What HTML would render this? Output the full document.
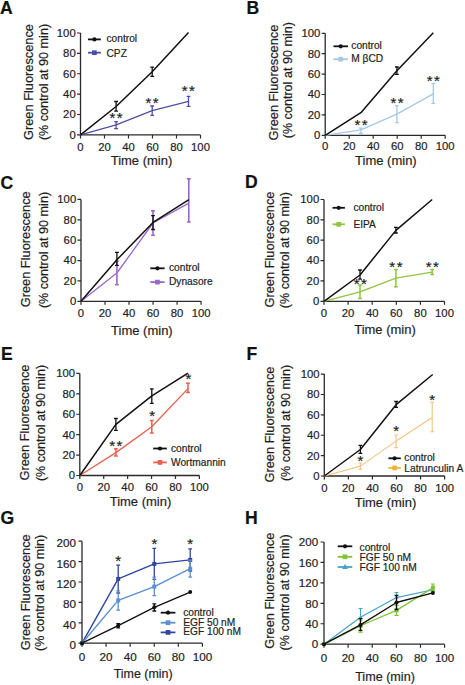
<!DOCTYPE html>
<html><head><meta charset="utf-8"><style>
html,body{margin:0;padding:0;background:#fff;}
body{width:465px;height:685px;overflow:hidden;}
svg{display:block;font-family:"Liberation Sans", sans-serif;}
text{stroke:#222;stroke-width:0.2px;}
</style></head><body>
<svg width="465" height="685" viewBox="0 0 465 685">
<rect width="465" height="685" fill="#fff"/>
<g>
<text x="0" y="13.7" font-size="17.6" font-weight="bold" fill="#111">A</text>
<path d="M80.5 33V134.9H200.5" stroke="#2a2a2a" stroke-width="1.3" fill="none"/>
<text x="75.7" y="138.8" font-size="11.3" text-anchor="end" fill="#1e1e1e">0</text>
<text x="75.7" y="118.42" font-size="11.3" text-anchor="end" fill="#1e1e1e">20</text>
<text x="75.7" y="98.04" font-size="11.3" text-anchor="end" fill="#1e1e1e">40</text>
<text x="75.7" y="77.66" font-size="11.3" text-anchor="end" fill="#1e1e1e">60</text>
<text x="75.7" y="57.28" font-size="11.3" text-anchor="end" fill="#1e1e1e">80</text>
<text x="75.7" y="36.9" font-size="11.3" text-anchor="end" fill="#1e1e1e">100</text>
<text x="80.5" y="150.6" font-size="11.3" text-anchor="middle" fill="#1e1e1e">0</text>
<text x="104.5" y="150.6" font-size="11.3" text-anchor="middle" fill="#1e1e1e">20</text>
<text x="128.5" y="150.6" font-size="11.3" text-anchor="middle" fill="#1e1e1e">40</text>
<text x="152.5" y="150.6" font-size="11.3" text-anchor="middle" fill="#1e1e1e">60</text>
<text x="176.5" y="150.6" font-size="11.3" text-anchor="middle" fill="#1e1e1e">80</text>
<text x="200.5" y="150.6" font-size="11.3" text-anchor="middle" fill="#1e1e1e">100</text>
<path d="M77 134.9H80.5M77 114.52H80.5M77 94.14H80.5M77 73.76H80.5M77 53.38H80.5M77 33H80.5M80.5 134.9V138.4M104.5 134.9V138.4M128.5 134.9V138.4M152.5 134.9V138.4M176.5 134.9V138.4M200.5 134.9V138.4" stroke="#2a2a2a" stroke-width="1.2" fill="none"/>
<text x="141.5" y="164.9" font-size="13" text-anchor="middle" fill="#1e1e1e">Time (min)</text>
<text transform="translate(33.4 82) rotate(-90)" font-size="12.8" text-anchor="middle" fill="#1e1e1e">Green Fluorescence</text>
<text transform="translate(48 82) rotate(-90)" font-size="12.6" text-anchor="middle" fill="#1e1e1e">(% control at 90 min)</text>
<path d="M80.5 134.9 L116.1 124.8 L152.2 110.7 L188.5 101.3" stroke="#4e4ea8" stroke-width="1.3" fill="none" stroke-linejoin="round"/>
<path d="M116.1 121.6V128.6M114.2 121.6H118M114.2 128.6H118M152.2 106V115.3M150.3 106H154.1M150.3 115.3H154.1M188.5 96.3V106.3M186.6 96.3H190.4M186.6 106.3H190.4" stroke="#4e4ea8" stroke-width="1.3" fill="none"/>
<path d="M80.5 134.9 L116.1 106.5 L152.2 71.7 L188.5 32.6" stroke="#111" stroke-width="1.5" fill="none" stroke-linejoin="round"/>
<path d="M116.1 101.5V111.1M114.2 101.5H118M114.2 111.1H118M152.2 67.2V76.4M150.3 67.2H154.1M150.3 76.4H154.1" stroke="#111" stroke-width="1.3" fill="none"/>
<text x="112.35" y="122.5" font-size="15" text-anchor="middle" fill="#1e1e1e">*</text>
<text x="119.65" y="122.5" font-size="15" text-anchor="middle" fill="#1e1e1e">*</text>
<text x="148.35" y="107.7" font-size="15" text-anchor="middle" fill="#1e1e1e">*</text>
<text x="155.65" y="107.7" font-size="15" text-anchor="middle" fill="#1e1e1e">*</text>
<text x="184.55" y="96.3" font-size="15" text-anchor="middle" fill="#1e1e1e">*</text>
<text x="191.85" y="96.3" font-size="15" text-anchor="middle" fill="#1e1e1e">*</text>
<path d="M88 39.4H100.8" stroke="#111" stroke-width="1.8"/>
<circle cx="94.4" cy="39.4" r="2.1" fill="#111"/>
<text x="106.5" y="42.3" font-size="10.2" fill="#1e1e1e">control</text>
<path d="M88 52.7H100.8" stroke="#4e4ea8" stroke-width="1.8"/>
<rect x="92.05" y="50.35" width="4.7" height="4.7" fill="#4e4ea8"/>
<text x="106.5" y="56.5" font-size="10.2" fill="#1e1e1e">CPZ</text>
</g>
<g>
<text x="246.6" y="13.6" font-size="17.6" font-weight="bold" fill="#111">B</text>
<path d="M325.2 33.3V135.3H445.2" stroke="#2a2a2a" stroke-width="1.3" fill="none"/>
<text x="320.4" y="139.2" font-size="11.3" text-anchor="end" fill="#1e1e1e">0</text>
<text x="320.4" y="118.8" font-size="11.3" text-anchor="end" fill="#1e1e1e">20</text>
<text x="320.4" y="98.4" font-size="11.3" text-anchor="end" fill="#1e1e1e">40</text>
<text x="320.4" y="78" font-size="11.3" text-anchor="end" fill="#1e1e1e">60</text>
<text x="320.4" y="57.6" font-size="11.3" text-anchor="end" fill="#1e1e1e">80</text>
<text x="320.4" y="37.2" font-size="11.3" text-anchor="end" fill="#1e1e1e">100</text>
<text x="325.2" y="150.3" font-size="11.3" text-anchor="middle" fill="#1e1e1e">0</text>
<text x="349.2" y="150.3" font-size="11.3" text-anchor="middle" fill="#1e1e1e">20</text>
<text x="373.2" y="150.3" font-size="11.3" text-anchor="middle" fill="#1e1e1e">40</text>
<text x="397.2" y="150.3" font-size="11.3" text-anchor="middle" fill="#1e1e1e">60</text>
<text x="421.2" y="150.3" font-size="11.3" text-anchor="middle" fill="#1e1e1e">80</text>
<text x="445.2" y="150.3" font-size="11.3" text-anchor="middle" fill="#1e1e1e">100</text>
<path d="M321.7 135.3H325.2M321.7 114.9H325.2M321.7 94.5H325.2M321.7 74.1H325.2M321.7 53.7H325.2M321.7 33.3H325.2M325.2 135.3V138.8M349.2 135.3V138.8M373.2 135.3V138.8M397.2 135.3V138.8M421.2 135.3V138.8M445.2 135.3V138.8" stroke="#2a2a2a" stroke-width="1.2" fill="none"/>
<text x="385.9" y="165.3" font-size="13" text-anchor="middle" fill="#1e1e1e">Time (min)</text>
<text transform="translate(277.7 82.6) rotate(-90)" font-size="12.8" text-anchor="middle" fill="#1e1e1e">Green Fluorescence</text>
<text transform="translate(292.4 80.2) rotate(-90)" font-size="12.6" text-anchor="middle" fill="#1e1e1e">(% control at 90 min)</text>
<path d="M325.2 135.3 L360.9 129.8 L396.9 114.1 L433.3 93.9" stroke="#a6c8e8" stroke-width="1.3" fill="none" stroke-linejoin="round"/>
<path d="M360.9 128.1V133.3M359 128.1H362.8M359 133.3H362.8M396.9 105.7V122.6M395 105.7H398.8M395 122.6H398.8M433.3 83.6V103.4M431.4 83.6H435.2M431.4 103.4H435.2" stroke="#a6c8e8" stroke-width="1.3" fill="none"/>
<path d="M325.2 135.3 L360.9 112.7 L396.9 70.8 L433.3 32.8" stroke="#111" stroke-width="1.5" fill="none" stroke-linejoin="round"/>
<path d="M396.9 67V74.4M395 67H398.8M395 74.4H398.8" stroke="#111" stroke-width="1.3" fill="none"/>
<text x="357.35" y="129.7" font-size="15" text-anchor="middle" fill="#1e1e1e">*</text>
<text x="364.65" y="129.7" font-size="15" text-anchor="middle" fill="#1e1e1e">*</text>
<text x="393.35" y="108" font-size="15" text-anchor="middle" fill="#1e1e1e">*</text>
<text x="400.65" y="108" font-size="15" text-anchor="middle" fill="#1e1e1e">*</text>
<text x="429.65" y="85.8" font-size="15" text-anchor="middle" fill="#1e1e1e">*</text>
<text x="436.95" y="85.8" font-size="15" text-anchor="middle" fill="#1e1e1e">*</text>
<path d="M333.5 46.3H348" stroke="#111" stroke-width="1.8"/>
<circle cx="340.75" cy="46.3" r="2.1" fill="#111"/>
<text x="351.3" y="48.8" font-size="10.2" fill="#1e1e1e">control</text>
<path d="M333.5 59.2H348" stroke="#a6c8e8" stroke-width="1.8"/>
<rect x="338.4" y="56.85" width="4.7" height="4.7" fill="#a6c8e8"/>
<text x="351.3" y="62.4" font-size="10.2" fill="#1e1e1e">M βCD</text>
</g>
<g>
<text x="0.5" y="188.5" font-size="17.6" font-weight="bold" fill="#111">C</text>
<path d="M81 199.4V301.3H201.1" stroke="#2a2a2a" stroke-width="1.3" fill="none"/>
<text x="76.2" y="305.2" font-size="11.3" text-anchor="end" fill="#1e1e1e">0</text>
<text x="76.2" y="284.82" font-size="11.3" text-anchor="end" fill="#1e1e1e">20</text>
<text x="76.2" y="264.44" font-size="11.3" text-anchor="end" fill="#1e1e1e">40</text>
<text x="76.2" y="244.06" font-size="11.3" text-anchor="end" fill="#1e1e1e">60</text>
<text x="76.2" y="223.68" font-size="11.3" text-anchor="end" fill="#1e1e1e">80</text>
<text x="76.2" y="203.3" font-size="11.3" text-anchor="end" fill="#1e1e1e">100</text>
<text x="81" y="317" font-size="11.3" text-anchor="middle" fill="#1e1e1e">0</text>
<text x="105.02" y="317" font-size="11.3" text-anchor="middle" fill="#1e1e1e">20</text>
<text x="129.04" y="317" font-size="11.3" text-anchor="middle" fill="#1e1e1e">40</text>
<text x="153.06" y="317" font-size="11.3" text-anchor="middle" fill="#1e1e1e">60</text>
<text x="177.08" y="317" font-size="11.3" text-anchor="middle" fill="#1e1e1e">80</text>
<text x="201.1" y="317" font-size="11.3" text-anchor="middle" fill="#1e1e1e">100</text>
<path d="M77.5 301.3H81M77.5 280.92H81M77.5 260.54H81M77.5 240.16H81M77.5 219.78H81M77.5 199.4H81M81 301.3V304.8M105.02 301.3V304.8M129.04 301.3V304.8M153.06 301.3V304.8M177.08 301.3V304.8M201.1 301.3V304.8" stroke="#2a2a2a" stroke-width="1.2" fill="none"/>
<text x="141.9" y="335.1" font-size="13" text-anchor="middle" fill="#1e1e1e">Time (min)</text>
<text transform="translate(30.3 249.3) rotate(-90)" font-size="12.8" text-anchor="middle" fill="#1e1e1e">Green Fluorescence</text>
<text transform="translate(48.4 250) rotate(-90)" font-size="12.6" text-anchor="middle" fill="#1e1e1e">(% control at 90 min)</text>
<path d="M81 301.3 L116.9 273 L153 223 L188.8 203.1" stroke="#9a68cc" stroke-width="1.3" fill="none" stroke-linejoin="round"/>
<path d="M116.9 261.2V284.8M115 261.2H118.8M115 284.8H118.8M153 210.9V235.2M151.1 210.9H154.9M151.1 235.2H154.9M188.8 178.9V222M186.9 178.9H190.7M186.9 222H190.7" stroke="#9a68cc" stroke-width="1.6" fill="none"/>
<path d="M81 301.3 L116.9 259.8 L153 222.4 L189 199.6" stroke="#111" stroke-width="1.5" fill="none" stroke-linejoin="round"/>
<path d="M116.9 252.4V265.4M115 252.4H118.8M115 265.4H118.8M153 215.7V229.5M151.1 215.7H154.9M151.1 229.5H154.9" stroke="#111" stroke-width="1.3" fill="none"/>
<path d="M150.3 268.3H164.6" stroke="#111" stroke-width="1.8"/>
<circle cx="157.45" cy="268.3" r="2.1" fill="#111"/>
<text x="169" y="271" font-size="10.2" fill="#1e1e1e">control</text>
<path d="M150.3 282.1H164.6" stroke="#9a68cc" stroke-width="1.8"/>
<rect x="155.1" y="279.75" width="4.7" height="4.7" fill="#9a68cc"/>
<text x="169" y="285.1" font-size="10.2" fill="#1e1e1e">Dynasore</text>
</g>
<g>
<text x="245" y="188.2" font-size="17.6" font-weight="bold" fill="#111">D</text>
<path d="M324 199.5V301.3H444.5" stroke="#2a2a2a" stroke-width="1.3" fill="none"/>
<text x="319.2" y="305.2" font-size="11.3" text-anchor="end" fill="#1e1e1e">0</text>
<text x="319.2" y="284.84" font-size="11.3" text-anchor="end" fill="#1e1e1e">20</text>
<text x="319.2" y="264.48" font-size="11.3" text-anchor="end" fill="#1e1e1e">40</text>
<text x="319.2" y="244.12" font-size="11.3" text-anchor="end" fill="#1e1e1e">60</text>
<text x="319.2" y="223.76" font-size="11.3" text-anchor="end" fill="#1e1e1e">80</text>
<text x="319.2" y="203.4" font-size="11.3" text-anchor="end" fill="#1e1e1e">100</text>
<text x="324" y="316.5" font-size="11.3" text-anchor="middle" fill="#1e1e1e">0</text>
<text x="348.1" y="316.5" font-size="11.3" text-anchor="middle" fill="#1e1e1e">20</text>
<text x="372.2" y="316.5" font-size="11.3" text-anchor="middle" fill="#1e1e1e">40</text>
<text x="396.3" y="316.5" font-size="11.3" text-anchor="middle" fill="#1e1e1e">60</text>
<text x="420.4" y="316.5" font-size="11.3" text-anchor="middle" fill="#1e1e1e">80</text>
<text x="444.5" y="316.5" font-size="11.3" text-anchor="middle" fill="#1e1e1e">100</text>
<path d="M320.5 301.3H324M320.5 280.94H324M320.5 260.58H324M320.5 240.22H324M320.5 219.86H324M320.5 199.5H324M324 301.3V304.8M348.1 301.3V304.8M372.2 301.3V304.8M396.3 301.3V304.8M420.4 301.3V304.8M444.5 301.3V304.8" stroke="#2a2a2a" stroke-width="1.2" fill="none"/>
<text x="385" y="333.6" font-size="13" text-anchor="middle" fill="#1e1e1e">Time (min)</text>
<text transform="translate(273.7 249.5) rotate(-90)" font-size="12.8" text-anchor="middle" fill="#1e1e1e">Green Fluorescence</text>
<text transform="translate(288.6 250.1) rotate(-90)" font-size="12.6" text-anchor="middle" fill="#1e1e1e">(% control at 90 min)</text>
<path d="M324 301.3 L360 291.8 L395.9 278.1 L432.2 272.2" stroke="#8cc63e" stroke-width="1.3" fill="none" stroke-linejoin="round"/>
<path d="M360 285.1V298.5M358.1 285.1H361.9M358.1 298.5H361.9M395.9 269.4V286.8M394 269.4H397.8M394 286.8H397.8M432.2 269.6V274.4M430.3 269.6H434.1M430.3 274.4H434.1" stroke="#8cc63e" stroke-width="1.5" fill="none"/>
<path d="M324 301.3 L360 275 L395.9 230.4 L432.2 199.5" stroke="#111" stroke-width="1.5" fill="none" stroke-linejoin="round"/>
<path d="M360 270V279.2M358.1 270H361.9M358.1 279.2H361.9M395.9 227.3V233M394 227.3H397.8M394 233H397.8" stroke="#111" stroke-width="1.3" fill="none"/>
<text x="356.55" y="288.9" font-size="15" text-anchor="middle" fill="#1e1e1e">*</text>
<text x="363.85" y="288.9" font-size="15" text-anchor="middle" fill="#1e1e1e">*</text>
<text x="392.25" y="271.7" font-size="15" text-anchor="middle" fill="#1e1e1e">*</text>
<text x="399.55" y="271.7" font-size="15" text-anchor="middle" fill="#1e1e1e">*</text>
<text x="428.55" y="271.8" font-size="15" text-anchor="middle" fill="#1e1e1e">*</text>
<text x="435.85" y="271.8" font-size="15" text-anchor="middle" fill="#1e1e1e">*</text>
<path d="M332.5 207.8H344.9" stroke="#111" stroke-width="1.8"/>
<circle cx="338.7" cy="207.8" r="2.1" fill="#111"/>
<text x="353.4" y="210.5" font-size="10.2" fill="#1e1e1e">control</text>
<path d="M332.5 224.3H344.9" stroke="#8cc63e" stroke-width="1.8"/>
<rect x="336.35" y="221.95" width="4.7" height="4.7" fill="#8cc63e"/>
<text x="353.4" y="228.1" font-size="10.2" fill="#1e1e1e">EIPA</text>
</g>
<g>
<text x="1" y="359.6" font-size="17.6" font-weight="bold" fill="#111">E</text>
<path d="M79.8 373.4V475.5H199.4" stroke="#2a2a2a" stroke-width="1.3" fill="none"/>
<text x="75" y="479.4" font-size="11.3" text-anchor="end" fill="#1e1e1e">0</text>
<text x="75" y="458.98" font-size="11.3" text-anchor="end" fill="#1e1e1e">20</text>
<text x="75" y="438.56" font-size="11.3" text-anchor="end" fill="#1e1e1e">40</text>
<text x="75" y="418.14" font-size="11.3" text-anchor="end" fill="#1e1e1e">60</text>
<text x="75" y="397.72" font-size="11.3" text-anchor="end" fill="#1e1e1e">80</text>
<text x="75" y="377.3" font-size="11.3" text-anchor="end" fill="#1e1e1e">100</text>
<text x="79.8" y="490.6" font-size="11.3" text-anchor="middle" fill="#1e1e1e">0</text>
<text x="103.72" y="490.6" font-size="11.3" text-anchor="middle" fill="#1e1e1e">20</text>
<text x="127.64" y="490.6" font-size="11.3" text-anchor="middle" fill="#1e1e1e">40</text>
<text x="151.56" y="490.6" font-size="11.3" text-anchor="middle" fill="#1e1e1e">60</text>
<text x="175.48" y="490.6" font-size="11.3" text-anchor="middle" fill="#1e1e1e">80</text>
<text x="199.4" y="490.6" font-size="11.3" text-anchor="middle" fill="#1e1e1e">100</text>
<path d="M76.3 475.5H79.8M76.3 455.08H79.8M76.3 434.66H79.8M76.3 414.24H79.8M76.3 393.82H79.8M76.3 373.4H79.8M79.8 475.5V479M103.72 475.5V479M127.64 475.5V479M151.56 475.5V479M175.48 475.5V479M199.4 475.5V479" stroke="#2a2a2a" stroke-width="1.2" fill="none"/>
<text x="140.5" y="506.2" font-size="13" text-anchor="middle" fill="#1e1e1e">Time (min)</text>
<text transform="translate(29 422.5) rotate(-90)" font-size="12.8" text-anchor="middle" fill="#1e1e1e">Green Fluorescence</text>
<text transform="translate(44.5 423) rotate(-90)" font-size="12.6" text-anchor="middle" fill="#1e1e1e">(% control at 90 min)</text>
<path d="M79.8 475.5 L115.9 452.6 L151.8 426.8 L188 388.6" stroke="#e8604e" stroke-width="1.3" fill="none" stroke-linejoin="round"/>
<path d="M115.9 448.8V456M114 448.8H117.8M114 456H117.8M151.8 420.5V433M149.9 420.5H153.7M149.9 433H153.7M188 383.2V392.5M186.1 383.2H189.9M186.1 392.5H189.9" stroke="#e8604e" stroke-width="1.5" fill="none"/>
<path d="M79.8 475.5 L115.9 424.4 L151.8 395.9 L188 373.2" stroke="#111" stroke-width="1.5" fill="none" stroke-linejoin="round"/>
<path d="M115.9 418.5V430.4M114 418.5H117.8M114 430.4H117.8M151.8 388.8V403.4M149.9 388.8H153.7M149.9 403.4H153.7" stroke="#111" stroke-width="1.3" fill="none"/>
<text x="112.15" y="450.9" font-size="15" text-anchor="middle" fill="#1e1e1e">*</text>
<text x="119.45" y="450.9" font-size="15" text-anchor="middle" fill="#1e1e1e">*</text>
<text x="152.2" y="420.6" font-size="15" text-anchor="middle" fill="#1e1e1e">*</text>
<text x="188.3" y="384" font-size="15" text-anchor="middle" fill="#1e1e1e">*</text>
<path d="M153.2 448.5H166.8" stroke="#111" stroke-width="1.8"/>
<circle cx="160" cy="448.5" r="2.1" fill="#111"/>
<text x="171" y="452" font-size="10.2" fill="#1e1e1e">control</text>
<path d="M153.2 462.4H166.8" stroke="#e8604e" stroke-width="1.8"/>
<rect x="157.65" y="460.05" width="4.7" height="4.7" fill="#e8604e"/>
<text x="171" y="465.6" font-size="10.2" fill="#1e1e1e">Wortmannin</text>
</g>
<g>
<text x="246.6" y="360" font-size="17.6" font-weight="bold" fill="#111">F</text>
<path d="M324.3 374.1V476H444.6" stroke="#2a2a2a" stroke-width="1.3" fill="none"/>
<text x="319.5" y="479.9" font-size="11.3" text-anchor="end" fill="#1e1e1e">0</text>
<text x="319.5" y="459.52" font-size="11.3" text-anchor="end" fill="#1e1e1e">20</text>
<text x="319.5" y="439.14" font-size="11.3" text-anchor="end" fill="#1e1e1e">40</text>
<text x="319.5" y="418.76" font-size="11.3" text-anchor="end" fill="#1e1e1e">60</text>
<text x="319.5" y="398.38" font-size="11.3" text-anchor="end" fill="#1e1e1e">80</text>
<text x="319.5" y="378" font-size="11.3" text-anchor="end" fill="#1e1e1e">100</text>
<text x="324.3" y="491.5" font-size="11.3" text-anchor="middle" fill="#1e1e1e">0</text>
<text x="348.36" y="491.5" font-size="11.3" text-anchor="middle" fill="#1e1e1e">20</text>
<text x="372.42" y="491.5" font-size="11.3" text-anchor="middle" fill="#1e1e1e">40</text>
<text x="396.48" y="491.5" font-size="11.3" text-anchor="middle" fill="#1e1e1e">60</text>
<text x="420.54" y="491.5" font-size="11.3" text-anchor="middle" fill="#1e1e1e">80</text>
<text x="444.6" y="491.5" font-size="11.3" text-anchor="middle" fill="#1e1e1e">100</text>
<path d="M320.8 476H324.3M320.8 455.62H324.3M320.8 435.24H324.3M320.8 414.86H324.3M320.8 394.48H324.3M320.8 374.1H324.3M324.3 476V479.5M348.36 476V479.5M372.42 476V479.5M396.48 476V479.5M420.54 476V479.5M444.6 476V479.5" stroke="#2a2a2a" stroke-width="1.2" fill="none"/>
<text x="385.5" y="506.8" font-size="13" text-anchor="middle" fill="#1e1e1e">Time (min)</text>
<text transform="translate(273.6 424.5) rotate(-90)" font-size="12.8" text-anchor="middle" fill="#1e1e1e">Green Fluorescence</text>
<text transform="translate(289.5 423) rotate(-90)" font-size="12.6" text-anchor="middle" fill="#1e1e1e">(% control at 90 min)</text>
<path d="M324.3 476 L360.4 466.1 L396.1 441.1 L432.2 417.4" stroke="#f2c582" stroke-width="1.15" fill="none" stroke-linejoin="round"/>
<path d="M360.4 463V469.4M358.5 463H362.3M358.5 469.4H362.3M396.1 435V447.6M394.2 435H398M394.2 447.6H398M432.2 402.4V431.7M430.3 402.4H434.1M430.3 431.7H434.1" stroke="#f2c582" stroke-width="1.1" fill="none"/>
<path d="M324.3 476 L360.4 449.5 L396.1 404.7 L432.7 374.5" stroke="#111" stroke-width="1.5" fill="none" stroke-linejoin="round"/>
<path d="M360.4 445.4V453.4M358.5 445.4H362.3M358.5 453.4H362.3M396.1 401.5V407.3M394.2 401.5H398M394.2 407.3H398" stroke="#111" stroke-width="1.3" fill="none"/>
<text x="360.4" y="465.7" font-size="15" text-anchor="middle" fill="#1e1e1e">*</text>
<text x="396.1" y="436.2" font-size="15" text-anchor="middle" fill="#1e1e1e">*</text>
<text x="432.2" y="404.9" font-size="15" text-anchor="middle" fill="#1e1e1e">*</text>
<path d="M388.4 458.3H400.8" stroke="#111" stroke-width="1.8"/>
<circle cx="394.6" cy="458.3" r="2.1" fill="#111"/>
<text x="404.3" y="460.7" font-size="10.2" fill="#1e1e1e">control</text>
<path d="M388.4 467.9H400.8" stroke="#efb53a" stroke-width="1.8"/>
<rect x="392.25" y="465.55" width="4.7" height="4.7" fill="#efb53a"/>
<text x="404.3" y="472" font-size="10.2" fill="#1e1e1e">Latrunculin A</text>
</g>
<g>
<text x="0.5" y="523.6" font-size="17.6" font-weight="bold" fill="#111">G</text>
<path d="M82 541.2V643.2H202.4" stroke="#2a2a2a" stroke-width="1.3" fill="none"/>
<text x="75.9" y="649.1" font-size="11.7" text-anchor="end" fill="#1e1e1e">0</text>
<text x="75.9" y="628.7" font-size="11.7" text-anchor="end" fill="#1e1e1e">40</text>
<text x="75.9" y="608.3" font-size="11.7" text-anchor="end" fill="#1e1e1e">80</text>
<text x="75.9" y="587.9" font-size="11.7" text-anchor="end" fill="#1e1e1e">120</text>
<text x="75.9" y="567.5" font-size="11.7" text-anchor="end" fill="#1e1e1e">160</text>
<text x="75.9" y="547.1" font-size="11.7" text-anchor="end" fill="#1e1e1e">200</text>
<text x="82" y="660.6" font-size="11.7" text-anchor="middle" fill="#1e1e1e">0</text>
<text x="106.08" y="660.6" font-size="11.7" text-anchor="middle" fill="#1e1e1e">20</text>
<text x="130.16" y="660.6" font-size="11.7" text-anchor="middle" fill="#1e1e1e">40</text>
<text x="154.24" y="660.6" font-size="11.7" text-anchor="middle" fill="#1e1e1e">60</text>
<text x="178.32" y="660.6" font-size="11.7" text-anchor="middle" fill="#1e1e1e">80</text>
<text x="202.4" y="660.6" font-size="11.7" text-anchor="middle" fill="#1e1e1e">100</text>
<path d="M78.5 643.2H82M78.5 622.8H82M78.5 602.4H82M78.5 582H82M78.5 561.6H82M78.5 541.2H82M82 643.2V646.7M106.08 643.2V646.7M130.16 643.2V646.7M154.24 643.2V646.7M178.32 643.2V646.7M202.4 643.2V646.7" stroke="#2a2a2a" stroke-width="1.2" fill="none"/>
<text x="143.2" y="677.6" font-size="12.45" text-anchor="middle" fill="#1e1e1e">Time (min)</text>
<text transform="translate(30 592.3) rotate(-90)" font-size="12.8" text-anchor="middle" fill="#1e1e1e">Green Fluorescence</text>
<text transform="translate(44 592.9) rotate(-90)" font-size="12.6" text-anchor="middle" fill="#1e1e1e">(% control at 90 min)</text>
<path d="M82 643.2 L118.2 578.9 L154.3 563.9 L190.2 559.9" stroke="#2f46a0" stroke-width="1.4" fill="none" stroke-linejoin="round"/>
<path d="M118.2 565.1V593M116.3 565.1H120.1M116.3 593H120.1M154.3 548.4V579.4M152.4 548.4H156.2M152.4 579.4H156.2M190.2 548.8V571M188.3 548.8H192.1M188.3 571H192.1" stroke="#2f46a0" stroke-width="1.3" fill="none"/>
<rect x="80" y="641.2" width="4" height="4" fill="#2f46a0"/>
<rect x="116.2" y="576.9" width="4" height="4" fill="#2f46a0"/>
<rect x="152.3" y="561.9" width="4" height="4" fill="#2f46a0"/>
<rect x="188.2" y="557.9" width="4" height="4" fill="#2f46a0"/>
<path d="M82 643.2 L118.2 600.4 L154.3 586.6 L190.2 568.7" stroke="#5b8fd0" stroke-width="1.4" fill="none" stroke-linejoin="round"/>
<path d="M118.2 590.9V610.2M116.3 590.9H120.1M116.3 610.2H120.1M154.3 577.2V595.6M152.4 577.2H156.2M152.4 595.6H156.2M190.2 560.2V577.2M188.3 560.2H192.1M188.3 577.2H192.1" stroke="#5b8fd0" stroke-width="1.3" fill="none"/>
<rect x="80" y="641.2" width="4" height="4" fill="#5b8fd0"/>
<rect x="116.2" y="598.4" width="4" height="4" fill="#5b8fd0"/>
<rect x="152.3" y="584.6" width="4" height="4" fill="#5b8fd0"/>
<rect x="188.2" y="566.7" width="4" height="4" fill="#5b8fd0"/>
<path d="M82 643.2 L118.2 625.7 L154.3 607.3 L190.2 592.1" stroke="#111" stroke-width="1.4" fill="none" stroke-linejoin="round"/>
<path d="M118.2 623.6V627.9M116.3 623.6H120.1M116.3 627.9H120.1M154.3 603.8V611M152.4 603.8H156.2M152.4 611H156.2" stroke="#111" stroke-width="1.3" fill="none"/>
<circle cx="82" cy="643.2" r="2" fill="#111"/>
<circle cx="118.2" cy="625.7" r="2" fill="#111"/>
<circle cx="154.3" cy="607.3" r="2" fill="#111"/>
<circle cx="190.2" cy="592.1" r="2" fill="#111"/>
<text x="118.2" y="565.7" font-size="15" text-anchor="middle" fill="#1e1e1e">*</text>
<text x="154.3" y="548.5" font-size="15" text-anchor="middle" fill="#1e1e1e">*</text>
<text x="190.2" y="548.6" font-size="15" text-anchor="middle" fill="#1e1e1e">*</text>
<path d="M160.7 612.7H175.4" stroke="#111" stroke-width="1.8"/>
<circle cx="168.05" cy="612.7" r="2.1" fill="#111"/>
<text x="183.2" y="616" font-size="10.2" fill="#1e1e1e">control</text>
<path d="M160.7 622.7H175.4" stroke="#5b8fd0" stroke-width="1.8"/>
<rect x="165.7" y="620.35" width="4.7" height="4.7" fill="#5b8fd0"/>
<text x="183.2" y="625.5" font-size="10.2" fill="#1e1e1e">EGF 50 nM</text>
<path d="M160.7 632.4H175.4" stroke="#2f46a0" stroke-width="1.8"/>
<rect x="165.7" y="630.05" width="4.7" height="4.7" fill="#2f46a0"/>
<text x="183.2" y="635.2" font-size="10.2" fill="#1e1e1e">EGF 100 nM</text>
</g>
<g>
<text x="245" y="523.8" font-size="17.6" font-weight="bold" fill="#111">H</text>
<path d="M324 542V644.2H444.6" stroke="#2a2a2a" stroke-width="1.3" fill="none"/>
<text x="318.2" y="648.4" font-size="11.6" text-anchor="end" fill="#1e1e1e">0</text>
<text x="318.2" y="627.96" font-size="11.6" text-anchor="end" fill="#1e1e1e">40</text>
<text x="318.2" y="607.52" font-size="11.6" text-anchor="end" fill="#1e1e1e">80</text>
<text x="318.2" y="587.08" font-size="11.6" text-anchor="end" fill="#1e1e1e">120</text>
<text x="318.2" y="566.64" font-size="11.6" text-anchor="end" fill="#1e1e1e">160</text>
<text x="318.2" y="546.2" font-size="11.6" text-anchor="end" fill="#1e1e1e">200</text>
<text x="324" y="661.5" font-size="11.6" text-anchor="middle" fill="#1e1e1e">0</text>
<text x="348.12" y="661.5" font-size="11.6" text-anchor="middle" fill="#1e1e1e">20</text>
<text x="372.24" y="661.5" font-size="11.6" text-anchor="middle" fill="#1e1e1e">40</text>
<text x="396.36" y="661.5" font-size="11.6" text-anchor="middle" fill="#1e1e1e">60</text>
<text x="420.48" y="661.5" font-size="11.6" text-anchor="middle" fill="#1e1e1e">80</text>
<text x="444.6" y="661.5" font-size="11.6" text-anchor="middle" fill="#1e1e1e">100</text>
<path d="M320.5 644.2H324M320.5 623.76H324M320.5 603.32H324M320.5 582.88H324M320.5 562.44H324M320.5 542H324M324 644.2V647.7M348.12 644.2V647.7M372.24 644.2V647.7M396.36 644.2V647.7M420.48 644.2V647.7M444.6 644.2V647.7" stroke="#2a2a2a" stroke-width="1.2" fill="none"/>
<text x="385" y="680.7" font-size="12.6" text-anchor="middle" fill="#1e1e1e">Time (min)</text>
<text transform="translate(273.7 590.7) rotate(-90)" font-size="12.8" text-anchor="middle" fill="#1e1e1e">Green Fluorescence</text>
<text transform="translate(288.8 592.4) rotate(-90)" font-size="12.6" text-anchor="middle" fill="#1e1e1e">(% control at 90 min)</text>
<path d="M324 644.2 L360.5 617.3 L396.5 597.6 L432.9 589.8" stroke="#45a2c6" stroke-width="1.15" fill="none" stroke-linejoin="round"/>
<path d="M360.5 608.5V626.1M358.6 608.5H362.4M358.6 626.1H362.4M396.5 592.5V602.7M394.6 592.5H398.4M394.6 602.7H398.4" stroke="#45a2c6" stroke-width="1.1" fill="none"/>
<path d="M324 642.09L326.04 645.63H321.96Z" fill="#45a2c6"/>
<path d="M360.5 615.19L362.54 618.73H358.46Z" fill="#45a2c6"/>
<path d="M396.5 595.49L398.54 599.03H394.46Z" fill="#45a2c6"/>
<path d="M432.9 587.69L434.94 591.23H430.86Z" fill="#45a2c6"/>
<path d="M324 644.2 L360.5 625.8 L396.5 610.4 L432.9 587.7" stroke="#7cc530" stroke-width="1.25" fill="none" stroke-linejoin="round"/>
<path d="M360.5 620V632.2M358.35 620H362.65M358.35 632.2H362.65M396.5 605.4V615.4M394.35 605.4H398.65M394.35 615.4H398.65M432.9 584V591.4M430.75 584H435.05M430.75 591.4H435.05" stroke="#7cc530" stroke-width="1.2" fill="none"/>
<rect x="322" y="642.2" width="4" height="4" fill="#7cc530"/>
<rect x="358.5" y="623.8" width="4" height="4" fill="#7cc530"/>
<rect x="394.5" y="608.4" width="4" height="4" fill="#7cc530"/>
<rect x="430.9" y="585.7" width="4" height="4" fill="#7cc530"/>
<path d="M324 644.2 L360.5 624.9 L396.5 602.5 L432.9 592.9" stroke="#111" stroke-width="1.4" fill="none" stroke-linejoin="round"/>
<path d="M360.5 618.7V630.4M358.6 618.7H362.4M358.6 630.4H362.4M396.5 595.5V609.5M394.6 595.5H398.4M394.6 609.5H398.4" stroke="#111" stroke-width="1.3" fill="none"/>
<circle cx="324" cy="644.2" r="2" fill="#111"/>
<circle cx="360.5" cy="624.9" r="2" fill="#111"/>
<circle cx="396.5" cy="602.5" r="2" fill="#111"/>
<circle cx="432.9" cy="592.9" r="2" fill="#111"/>
<path d="M337.7 546.3H352.3" stroke="#111" stroke-width="1.8"/>
<circle cx="345" cy="546.3" r="2.1" fill="#111"/>
<text x="359.6" y="550.6" font-size="10.2" fill="#1e1e1e">control</text>
<path d="M337.7 556.8H352.3" stroke="#7cc530" stroke-width="1.8"/>
<rect x="342.65" y="554.45" width="4.7" height="4.7" fill="#7cc530"/>
<text x="359.6" y="561" font-size="10.2" fill="#1e1e1e">FGF 50 nM</text>
<path d="M337.7 567H352.3" stroke="#45a2c6" stroke-width="1.8"/>
<path d="M345 563.9L348 569.1H342Z" fill="#45a2c6"/>
<text x="359.6" y="570.6" font-size="10.2" fill="#1e1e1e">FGF 100 nM</text>
</g>
</svg>
</body></html>
